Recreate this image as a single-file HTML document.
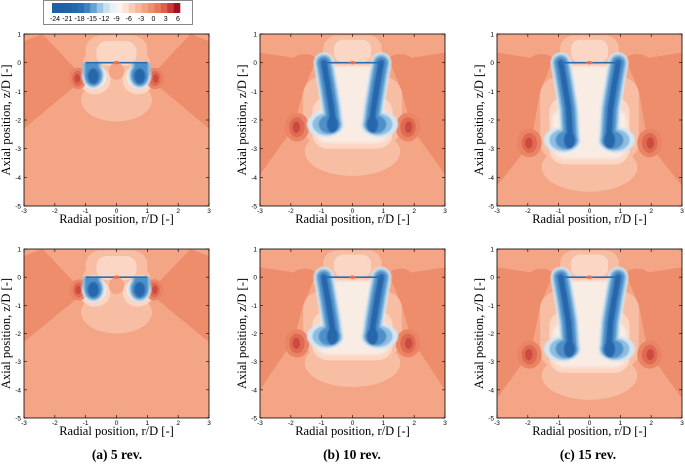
<!DOCTYPE html>
<html><head><meta charset="utf-8">
<style>
html,body{margin:0;padding:0;background:#fff;}
svg{display:block;font-family:"Liberation Serif",serif;}
</style></head>
<body>
<svg id="fig" width="685" height="468" viewBox="0 0 685 468" xmlns="http://www.w3.org/2000/svg">
<defs>
<filter id="blur1" x="-20%" y="-20%" width="140%" height="140%"><feGaussianBlur stdDeviation="0.8"/></filter>
<filter id="blur2" x="-20%" y="-20%" width="140%" height="140%"><feGaussianBlur stdDeviation="1.5"/></filter>
</defs>
<g id="cbar"></g>
<g id="panels"></g>
<g font-weight="bold" font-size="13.5" text-anchor="middle">
<text x="117" y="459">(a) 5 rev.</text>
<text x="352" y="459">(b) 10 rev.</text>
<text x="588" y="459">(c) 15 rev.</text>
</g>
</svg>
<script>
const NS='http://www.w3.org/2000/svg';
// colorbar data
const cbarTicks=[-24,-21,-18,-15,-12,-9,-6,-3,0,3,6];
const cbarColors=['#1f5fa6','#1f5fa6','#2163a9','#2367ad','#2a6fb2','#3f83c2','#66a3d3','#9cc6e3','#c9e0ef','#e6f0f6','#f8f4f1','#fde2d4','#f9cbb4','#f6b79b','#f2a384','#ee906f','#e87a5b','#dd6049','#c93b39','#a50f23'];
// panel data (order: a-top, b-top, c-top, a-bottom, b-bottom, c-bottom)
const panelCol=[0,1,2,0,1,2];
const panelRow=[0,0,0,1,1,1];
const jetTipZ=[-0.8,-2.65,-3.2,-0.75,-2.6,-3.05];
const redDotR=[1.25,1.8,1.95,1.22,1.8,1.95];
const redDotZ=[-0.55,-2.25,-2.8,-0.45,-2.35,-2.75];
const wedgeLowZ=[-2.3,-3.9,-4.3,-2.3,-4.0,-4.3];
const xTicks=[-3,-2,-1,0,1,2,3];
const yTicks=[1,0,-1,-2,-3,-4,-5];

const colX=[24,260,497], rowY=[34,249], W=185, H=[172,169];

function el(tag,attrs,parent){const e=document.createElementNS(NS,tag);for(const k in attrs)e.setAttribute(k,attrs[k]);parent.appendChild(e);return e;}

// colorbar
(function(){
  const g=document.getElementById('cbar');
  el('rect',{x:43.5,y:0.5,width:149,height:24,fill:'#fff',stroke:'#888','stroke-width':1},g);
  const x0=52,x1=180,bw=(x1-x0)/cbarColors.length;
  cbarColors.forEach((c,i)=>{
    const r=el('rect',{x:x0+i*bw,y:3,width:bw+0.3,height:10,fill:c},g);
    
    
  });
  const sx=v=>55+(v+24)/30*(178-55);
  cbarTicks.forEach(v=>{
    const t=el('text',{x:sx(v),y:21,'font-size':7,'text-anchor':'middle','font-family':'Liberation Sans, sans-serif'},g);
    t.textContent=v;
    
    
  });
})();

function panel(i){
  const px=colX[panelCol[i]], py=rowY[panelRow[i]], h=H[panelRow[i]];
  const sx=r=>px+(r+3)/6*W, sy=z=>py+(1-z)/6*h;
  const ux=W/6, uy=h/6;
  const g=el('g',{},document.getElementById('panels'));
  
  
  const clipId='clip'+i;
  const cp=el('clipPath',{id:clipId},g);
  el('rect',{x:px,y:py,width:W,height:h},cp);
  const p=el('g',{'clip-path':'url(#'+clipId+')'},g);
  const tip=jetTipZ[i];
  const early=tip>-1.5;
  el('rect',{x:px,y:py,width:W,height:h,fill:'#f3a586'},p);
  const wl=wedgeLowZ[i];
  [-1,1].forEach(s=>{
    let pts;
    if(early) pts=[[-3,0.75],[-2.4,1],[-1.05,-0.55],[-3,wl]];
    else pts=[[-3,0.35],[-1.2,0.05],[-1.6,-1],[-1.9,tip+0.4],[-3,wl]];
    el('polygon',{points:pts.map(q=>sx(s*q[0])+','+sy(q[1])).join(' '),fill:'#ed8d6b'},p);
  });
  const rrect=(r0,r1,z0,z1,rad,fill,par)=>el('rect',{x:sx(r0),y:sy(z0),width:sx(r1)-sx(r0),height:sy(z1)-sy(z0),rx:rad*ux,ry:rad*uy,fill:fill},par||p);
  const ell=(r,z,rx,rz,fill,par)=>el('ellipse',{cx:sx(r),cy:sy(z),rx:rx*ux,ry:rz*uy,fill:fill},par||p);
  if(early){
    rrect(-1.0,1.0,0.95,-0.2,0.5,'#f8bea3');
    ell(0,tip-0.5,1.15,0.75,'#f8bea3');
    rrect(-1.1,1.1,0.4,tip-0.3,0.45,'#f8bea3');
    rrect(-0.65,0.65,0.75,-0.1,0.35,'#fbd6c4');
    ell(-0.7,tip+0.2,0.5,0.5,'#fbd6c4');ell(0.7,tip+0.2,0.5,0.5,'#fbd6c4');
    ell(-0.75,tip+0.3,0.42,0.42,'#f9ece5');ell(0.75,tip+0.3,0.42,0.42,'#f9ece5');
    ell(0,-0.3,0.25,0.3,'#f3a586');
  } else {
    rrect(-0.95,0.95,0.95,-0.3,0.45,'#f8bea3');
    rrect(-1.6,1.6,-0.5,tip-0.2,0.6,'#f8bea3');
    ell(0,tip-0.45,1.55,0.85,'#f8bea3');
    rrect(-0.6,0.6,0.8,0,0.3,'#fbd6c4');
    rrect(-1.3,1.3,-1.2,tip-0.35,0.5,'#fbd6c4');
    const wg=el('g',{filter:'url(#blur2)'},p);
    rrect(-1.2,1.2,-1.6,tip-0.15,0.4,'#f9ece5',wg);
    rrect(-0.55,0.55,-0.1,tip,0.25,'#f9ece5',wg);
    rrect(-1.0,1.0,-0.1,-1.8,0.3,'#f9ece5',wg);
    ell(-1.55,0.05,0.4,0.25,'#ed8d6b');ell(1.55,0.05,0.4,0.25,'#ed8d6b');
  }
  // red dots
  [-1,1].forEach(s=>{
    const r=s*redDotR[i], z=redDotZ[i];
    const sc=early?0.75:1;
    ell(r,z,0.4*sc,0.5*sc,'#eb8465');
    ell(r,z,0.25*sc,0.35*sc,'#df6a52');
    ell(r+s*0.02,z,0.12*sc,0.2*sc,'#cc4a3f');
  });
  // jets
  [-1,1].forEach(s=>{
    const jg=el('g',{filter:'url(#blur1)'},p);
    
    
    if(early){
      const r=s*0.75, z=tip*0.55;
      const e=(rx,rz,f,dz)=>el('ellipse',{cx:sx(r),cy:sy(z+(dz||0)),rx:rx*ux,ry:rz*uy,fill:f},jg);
      e(0.38,0.48,'#d3e5f1');
      el('rect',{x:sx(s*0.8)-0.3*ux,y:sy(0),width:0.6*ux,height:(-z)*uy,fill:'#8dbde0'},jg);
      e(0.32,0.42,'#8dbde0');e(0.27,0.36,'#4d8fc8');
      el('rect',{x:sx(s*0.8)-0.22*ux,y:sy(0),width:0.44*ux,height:(-z)*uy,fill:'#4d8fc8'},jg);
      e(0.18,0.27,'#2566ab',-0.03);
    } else {
      const pts=[[0.93,0],[0.8,-0.8],[0.68,-1.6],[0.62,tip+0.5]];
      const d='M'+pts.map(q=>sx(s*q[0])+','+sy(q[1])).join(' L');
      const line=(w,f)=>el('path',{d:d,fill:'none',stroke:f,'stroke-width':w*ux,'stroke-linecap':'round','stroke-linejoin':'round'},jg);
      const fe=(dr,rx,rz,f)=>el('ellipse',{cx:sx(s*(0.8+dr)),cy:sy(tip+0.5),rx:rx*ux,ry:rz*uy,fill:f},jg);
      fe(0.08,0.6,0.45,'#d3e5f1');
      line(0.66,'#d3e5f1');
      fe(0.02,0.48,0.38,'#8dbde0');
      line(0.54,'#8dbde0');
      fe(-0.05,0.35,0.32,'#4d8fc8');
      line(0.4,'#4d8fc8');
      line(0.2,'#2566ab');
      fe(-0.15,0.18,0.3,'#2566ab');
    }
  });
  // rotor disk line
  el('line',{x1:sx(-1),y1:sy(0),x2:sx(-0.08),y2:sy(0),stroke:'#2a6cb0','stroke-width':1.6},p);
  el('line',{x1:sx(0.08),y1:sy(0),x2:sx(1),y2:sy(0),stroke:'#2a6cb0','stroke-width':1.6},p);
  el('ellipse',{cx:sx(0),cy:sy(0),rx:0.1*ux,ry:0.06*uy,fill:'#e07058'},p);
  // frame
  const fr=el('rect',{x:px,y:py,width:W,height:h,fill:'none',stroke:'#000','stroke-width':0.8},g);
  
  
  xTicks.forEach(v=>{
    el('line',{x1:sx(v),y1:py+h,x2:sx(v),y2:py+h-3,stroke:'#000','stroke-width':0.6},g);
    el('line',{x1:sx(v),y1:py,x2:sx(v),y2:py+3,stroke:'#000','stroke-width':0.6},g);
    const t=el('text',{x:sx(v),y:py+h+7,'font-size':6.5,'text-anchor':'middle','font-family':'Liberation Sans, sans-serif'},g);
    t.textContent=v;
    
    
  });
  yTicks.forEach(v=>{
    el('line',{x1:px,y1:sy(v),x2:px+3,y2:sy(v),stroke:'#000','stroke-width':0.6},g);
    el('line',{x1:px+W,y1:sy(v),x2:px+W-3,y2:sy(v),stroke:'#000','stroke-width':0.6},g);
    const t=el('text',{x:px-3,y:sy(v)+2.5,'font-size':6.5,'text-anchor':'end','font-family':'Liberation Sans, sans-serif'},g);
    t.textContent=v;
    
    
  });
  const xt=el('text',{x:px+W/2,y:py+h+17,'font-size':12.5,'text-anchor':'middle'},g);
  xt.textContent='Radial position, r/D [-]';
  
  
  const yt=el('text',{x:0,y:0,'font-size':12.5,'text-anchor':'middle',transform:'translate('+(px-14)+','+(py+h/2)+') rotate(-90)'},g);
  yt.textContent='Axial position, z/D [-]';
  
  
}
for(let i=0;i<6;i++)panel(i);
</script>
</body></html>
